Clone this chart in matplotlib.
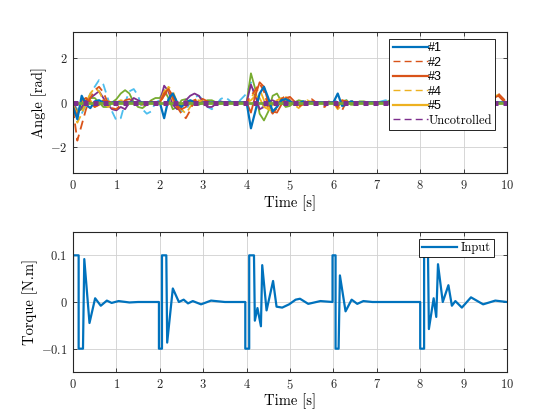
import numpy as np
import matplotlib
matplotlib.use("Agg")
import matplotlib.pyplot as plt
from matplotlib.lines import Line2D

plt.rcParams['font.family'] = 'serif'
plt.rcParams['font.serif'] = ['cmr10']
plt.rcParams['mathtext.fontset'] = 'cm'
plt.rcParams['axes.formatter.use_mathtext'] = True

# Time grid of the angle traces (0.1 s steps, 0..10 s)
t = np.round(np.arange(0, 101) * 0.1, 1)

z10 = [0.0] * 10

angle_1 = ([-0.2, -0.75, 0.3, -0.1, -0.25, 0.05, 0.1, 0.0, -0.05, 0.0]
           + [0.02, 0.0, -0.02, 0.0, 0.0, 0.0, 0.0, 0.0, 0.0, 0.0]
           + [0.0, -0.7, 0.15, 0.4, 0.0, -0.2, 0.0, 0.1, 0.0, -0.05]
           + z10
           + [0.0, -1.15, -0.4, 0.4, 0.7, 0.2, -0.4, -0.2, 0.1, 0.15]
           + [0.05, -0.1, -0.05, 0.05, 0.0, 0.0, 0.0, 0.0, 0.0, 0.0]
           + [0.0, 0.4, -0.15, -0.1, 0.05, 0.0, 0.0, 0.0, 0.0, 0.0]
           + z10
           + [0.0, -1.0, 0.1, 0.3, -0.05, -0.15, 0.05, 0.05, 0.0, 0.0]
           + z10 + [0.0])

angle_2 = ([-0.3, -1.7, -1.0, -0.3, 0.2, 0.55, 0.7, 0.45, 0.0, -0.25]
           + [-0.3, -0.1, 0.1, 0.15, 0.05, -0.05, -0.1, 0.0, 0.05, 0.0]
           + [0.0, 0.3, 0.55, 0.2, -0.2, -0.5, -0.7, -0.35, 0.1, 0.2]
           + [0.15, 0.05, -0.05, -0.1, 0.0, 0.05, 0.0, 0.0, 0.0, 0.0]
           + [0.0, 0.3, 0.55, 0.85, 0.5, -0.2, -0.5, -0.25, 0.15, 0.3]
           + [0.1, -0.1, -0.2, -0.05, 0.1, 0.15, 0.0, -0.15, -0.2, 0.05]
           + [0.15, -0.25, -0.35, 0.05, 0.1, -0.05, 0.0, 0.0, 0.0, 0.0]
           + [0.0, 0.0, 0.0, 0.05, 0.0, 0.0, 0.0, 0.0, 0.0, 0.0]
           + [0.0, 0.1, -0.2, 0.0, 0.1, 0.0, 0.0, 0.0, 0.0, 0.0]
           + [0.0, 0.0, 0.0, 0.0, 0.0, 0.0, 0.1, 0.3, 0.4, 0.2] + [0.0])

angle_3 = ([-0.2, -0.6, 0.1, 0.2, 0.0, -0.2, -0.1, 0.1, 0.05, 0.0]
           + z10
           + [0.0, 0.4, 0.6, 0.3, -0.1, -0.3, -0.2, 0.05, 0.1, 0.0]
           + z10
           + [0.0, -0.45, 0.3, 0.9, 0.7, 0.0, -0.4, -0.45, -0.1, 0.2]
           + [0.25, 0.05, -0.1, -0.1, 0.0, 0.05, 0.0, 0.0, 0.0, 0.0]
           + [0.0, -0.2, 0.1, 0.05, 0.0, 0.0, 0.0, 0.0, 0.0, 0.0]
           + z10
           + [0.0, 0.15, -0.15, 0.0, 0.0, 0.0, 0.0, 0.0, 0.0, 0.0]
           + [0.0, 0.0, 0.0, 0.0, 0.0, 0.0, 0.0, 0.2, 0.3, 0.1] + [0.0])

angle_4 = ([-0.2, -0.9, -0.5, 0.0, 0.4, 0.65, 0.5, 0.1, -0.2, -0.15]
           + [0.0, 0.1, 0.05, 0.0, -0.05, 0.0, 0.0, 0.0, 0.0, 0.0]
           + [0.0, 0.3, 0.7, 0.5, 0.0, -0.3, -0.5, -0.2, 0.05, 0.1]
           + [0.05, 0.0, 0.0, 0.0, 0.0, 0.0, 0.0, 0.0, 0.0, 0.0]
           + [0.0, 0.2, 0.5, 0.6, 0.1, -0.3, -0.4, -0.1, 0.2, 0.25]
           + [0.05, -0.1, -0.25, -0.05, 0.1, 0.0, 0.0, 0.0, 0.0, 0.0]
           + [0.0, -0.3, -0.1, 0.05, 0.0, 0.0, 0.0, 0.0, 0.0, 0.0]
           + z10
           + [0.0, -0.1, 0.1, 0.0, 0.0, 0.0, 0.0, 0.0, 0.0, 0.0]
           + [0.0, 0.0, 0.0, 0.0, 0.0, 0.0, 0.0, 0.25, 0.35, 0.15] + [0.0])

angle_5 = ([-0.1, -0.5, 0.0, 0.2, 0.1, -0.2, -0.1, 0.1, 0.05, 0.0]
           + z10
           + [0.0, 0.5, 0.6, 0.1, -0.2, -0.1, 0.05, 0.0, 0.0, 0.0]
           + z10
           + [0.0, 0.1, 0.3, 0.2, -0.2, -0.3, -0.1, 0.1, 0.2, 0.1]
           + [-0.05, -0.1, -0.1, 0.0, 0.0, 0.0, 0.0, 0.0, 0.0, 0.0]
           + [0.0, -0.15, 0.1, 0.0, 0.0, 0.0, 0.0, 0.0, 0.0, 0.0]
           + z10 + z10 + z10 + [0.0])

angle_purple = ([0.0, -0.5, -0.2, 0.1, 0.2, 0.35, 0.5, 0.2, -0.1, -0.3]
                + [-0.35, -0.2, -0.3, 0.0, 0.2, 0.1, 0.0, -0.05, 0.0, 0.0]
                + [0.0, 0.75, 0.5, -0.1, -0.3, -0.1, 0.1, 0.3, 0.4, 0.3]
                + [0.0, -0.2, -0.2, -0.05, 0.05, 0.0, 0.0, 0.0, 0.0, 0.0]
                + [0.0, 0.8, 0.3, -0.3, -0.2, 0.05, 0.1, 0.0, 0.0, 0.0]
                + z10
                + [0.0, -0.1, 0.05, 0.0, 0.0, 0.0, 0.0, 0.0, 0.0, 0.0]
                + z10 + z10 + z10 + [0.0])

angle_green = ([0.0, -0.4, -0.3, 0.0, 0.2, 0.2, 0.0, -0.2, -0.2, 0.0]
               + [0.15, 0.4, 0.55, 0.4, 0.0, -0.2, -0.25, -0.1, 0.1, 0.2]
               + [0.2, 0.55, 0.2, -0.3, -0.2, 0.1, 0.15, 0.0, -0.1, -0.1]
               + [0.0, 0.1, 0.1, 0.0, -0.05, 0.0, 0.0, 0.0, 0.0, 0.0]
               + [0.0, 1.3, 0.6, -0.5, -0.8, -0.4, 0.3, 0.4, 0.05, -0.2]
               + [-0.15, 0.0, 0.1, 0.05, 0.0, -0.05, 0.0, 0.0, 0.0, 0.0]
               + [0.0, -0.1, 0.05, 0.1, -0.1, -0.1, 0.05, 0.05, 0.0, 0.0]
               + [0.0, 0.0, 0.0, 0.1, 0.05, 0.0, 0.0, 0.0, 0.0, 0.0]
               + z10 + z10 + [0.0])

angle_cyan = ([0.0, -0.3, -0.5, -0.1, 0.4, 0.7, 1.0, 0.8, 0.2, -0.4]
              + [-0.8, -0.7, 0.0, 0.5, 0.6, 0.3, -0.3, -0.5, -0.4, 0.0]
              + [0.1, 0.4, 0.6, 0.3, -0.2, -0.4, -0.35, 0.0, 0.25, 0.3]
              + [0.1, -0.2, -0.3, -0.1, 0.15, 0.25, 0.1, -0.05, 0.0, 0.2]
              + [0.4, 0.9, 0.2, -0.4, -0.1, 0.1, 0.0, -0.1, 0.0, 0.05]
              + [0.0, 0.05, -0.05, 0.0, 0.0, 0.0, 0.0, 0.0, 0.0, 0.0]
              + [0.0, 0.1, -0.1, 0.1, 0.15, -0.1, 0.0, 0.0, 0.0, 0.0]
              + [0.0, 0.05, 0.1, 0.05, 0.0, 0.0, 0.0, 0.0, 0.0, 0.0]
              + [0.0, -0.2, 0.0, 0.0, 0.0, 0.0, 0.0, 0.0, 0.0, 0.0]
              + z10 + [0.0])

angle_unctrl = [0.0] * 101

# Input torque
t_in = [0, 0, 0.13, 0.13, 0.23, 0.26, 0.38, 0.51, 0.64, 0.78, 0.89, 1.05, 1.3, 1.5,
        1.98, 1.98, 2.05, 2.05, 2.15, 2.17, 2.3, 2.44, 2.55, 2.65, 2.76, 2.95, 3.18, 3.5,
        3.97, 3.97, 4.06, 4.06, 4.17, 4.19, 4.25, 4.33, 4.36, 4.46, 4.61, 4.69, 4.82,
        4.98, 5.13, 5.23, 5.42, 5.7,
        5.98, 5.98, 6.05, 6.05, 6.12, 6.15, 6.28, 6.42, 6.55, 6.69, 6.9,
        8.0, 8.0, 8.09, 8.09, 8.18, 8.2, 8.31, 8.37, 8.41, 8.52, 8.65, 8.73, 8.81,
        8.96, 9.17, 9.45, 9.73, 10.0]
u_in = [0, 0.1, 0.1, -0.1, -0.1, 0.092, -0.045, 0.008, -0.008, 0.003, -0.002, 0.002, -0.001, 0.0,
        0.0, -0.1, -0.1, 0.1, 0.1, -0.087, 0.029, 0.0, 0.005, -0.003, 0.002, -0.005, 0.003, 0.0,
        0.0, -0.1, -0.1, 0.1, 0.1, -0.04, -0.013, -0.052, 0.079, -0.018, 0.045, -0.01, -0.012,
        -0.005, 0.005, 0.007, -0.004, 0.002,
        0.0, 0.1, 0.1, -0.1, -0.1, 0.057, -0.02, 0.005, -0.004, 0.002, 0.0,
        0.0, -0.1, -0.1, 0.1, 0.1, -0.058, 0.008, -0.032, 0.081, 0.0, 0.036, -0.008, 0.002,
        -0.012, 0.01, -0.005, 0.003, 0.0]

C_BLUE = '#0072BD'
C_ORANGE = '#D95319'
C_YELLOW = '#EDB120'
C_PURPLE = '#7E2F8E'
C_GREEN = '#77AC30'
C_CYAN = '#4DBEEE'

fig = plt.figure(figsize=(5.6, 4.2), dpi=100)
ax1 = fig.add_axes([73 / 560, 1 - 173 / 420, 434 / 560, 141 / 420])
ax2 = fig.add_axes([73 / 560, 1 - 372 / 420, 434 / 560, 140 / 420])

lw = 1.3
ax1.plot(t, angle_cyan, color=C_CYAN, lw=lw, ls=(0, (5, 3)))
ax1.plot(t, angle_green, color=C_GREEN, lw=lw)
ax1.plot(t, angle_purple, color=C_PURPLE, lw=lw)
ax1.plot(t, angle_5, color=C_YELLOW, lw=lw)
ax1.plot(t, angle_4, color=C_YELLOW, lw=lw, ls=(0, (5, 3)))
ax1.plot(t, angle_3, color=C_ORANGE, lw=lw)
ax1.plot(t, angle_2, color=C_ORANGE, lw=lw, ls=(0, (5, 3)))
ax1.plot(t, angle_1, color=C_BLUE, lw=1.6)
ax1.plot(t, angle_unctrl, color=C_GREEN, lw=2)
ax1.plot(t, angle_unctrl, color=C_PURPLE, lw=3.6, ls=(0, (1, 1)), dash_capstyle='butt')

handles = [Line2D([], [], color=C_BLUE, lw=1.6),
           Line2D([], [], color=C_ORANGE, lw=1, ls=(0, (5, 3))),
           Line2D([], [], color=C_ORANGE, lw=1.6),
           Line2D([], [], color=C_YELLOW, lw=1, ls=(0, (5, 3))),
           Line2D([], [], color=C_YELLOW, lw=1.6),
           Line2D([], [], color=C_PURPLE, lw=1, ls=(0, (5, 3)))]
labels = ['#1', '#2', '#3', '#4', '#5', 'Uncotrolled']
leg = ax1.legend(handles, labels, loc='upper right', bbox_to_anchor=(0.972, 0.95),
                 fontsize=9, handlelength=2.8, handletextpad=0.05, borderpad=0.25,
                 labelspacing=0.2, fancybox=False, framealpha=1, edgecolor='black',
                 borderaxespad=0)
leg.get_frame().set_linewidth(0.6)
for txt in leg.get_texts()[:5]:
    txt.set_family('Liberation Sans')

ax1.set_xlim(0, 10)
ax1.set_ylim(-np.pi, np.pi)
ax1.set_yticks([-2, 0, 2])
ax1.set_xticks(range(11))
ax1.set_xlabel('Time [s]', fontsize=10.5, labelpad=2)
ax1.set_ylabel('Angle [rad]', fontsize=10.5, labelpad=2)

ax2.plot(t_in, u_in, color=C_BLUE, lw=1.6, label='Input')
leg2 = ax2.legend(loc='upper right', bbox_to_anchor=(0.97, 0.95), fontsize=9,
                  handlelength=2.8, handletextpad=0.3, borderpad=0.25,
                  fancybox=False, framealpha=1, edgecolor='black', borderaxespad=0)
leg2.get_frame().set_linewidth(0.6)
ax2.set_xlim(0, 10)
ax2.set_ylim(-0.15, 0.15)
ax2.set_yticks([-0.1, 0, 0.1])
ax2.set_yticklabels(['$-0.1$', '$0$', '$0.1$'])
ax2.set_xticks(range(11))
ax2.set_xlabel('Time [s]', fontsize=10.5, labelpad=1)
ax2.set_ylabel('Torque [N.m]', fontsize=10.5, labelpad=2)

for ax in (ax1, ax2):
    ax.grid(True, color='#d0d0d0', lw=0.6)
    ax.set_axisbelow(True)
    ax.tick_params(direction='in', length=3, width=0.6, labelsize=9, top=True, right=True,
                   colors='#262626', pad=4)
    for sp in ax.spines.values():
        sp.set_linewidth(0.8)
        sp.set_color('#262626')

fig.savefig('out.png', dpi=100)
